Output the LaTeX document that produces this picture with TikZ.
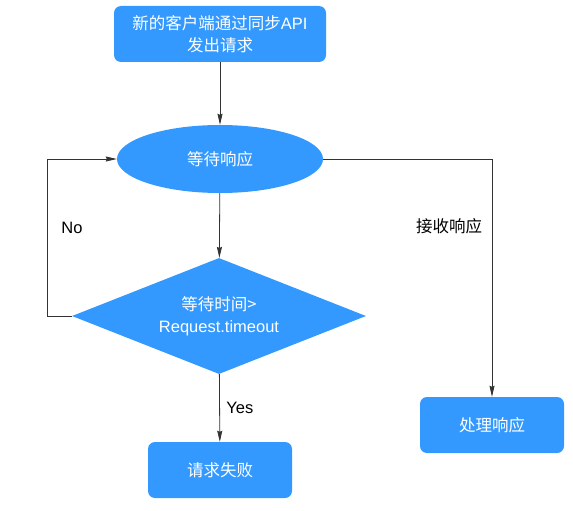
\documentclass[tikz,border=0pt]{standalone}
\usepackage{fontspec}
\setmainfont{Liberation Sans}
\newfontfamily\cjk{Noto Sans CJK SC}
\usetikzlibrary{shapes.geometric,arrows.meta}
\definecolor{fblue}{HTML}{3399FF}
\definecolor{lgray}{HTML}{333333}
\tikzset{
  box/.style={draw=none,fill=fblue,rounded corners=7pt,text=white,align=center,font=\fontsize{16.5}{22}\selectfont\cjk,inner sep=0pt},
  oval/.style={ellipse,draw=none,fill=fblue,text=white,font=\fontsize{16.5}{22}\selectfont\cjk,inner sep=0pt},
  dia/.style={diamond,draw=none,fill=fblue,text=white,align=center,font=\fontsize{16.5}{22}\selectfont,inner sep=0pt,aspect=2.53},
  conn/.style={draw=lgray,line width=0.8pt,-{Stealth[length=11pt,width=5pt,inset=1pt]}},
  lab/.style={font=\fontsize{16.5}{20}\selectfont,text=black}
}
\begin{document}
\begin{tikzpicture}[x=1pt,y=-1pt]
\useasboundingbox (0,0) rectangle (573,511);
\node[box,minimum width=212pt,minimum height=56pt] (start) at (220,34) {新的客户端通过同步\textrm{API}\\发出请求};
\node[oval,minimum width=206pt,minimum height=68pt] (wait) at (220,159) {等待响应};
\node[dia,minimum width=294pt,minimum height=116pt] (check) at (219,316) {{\cjk 等待时间>}\\Request.timeout};
\node[box,minimum width=144pt,minimum height=56pt] (fail) at (220,470) {请求失败};
\node[box,minimum width=144pt,minimum height=56pt] (ok) at (492,425) {处理响应};
\coordinate (nl) at (47,316);
\coordinate (nt) at (47,159);
\coordinate (rc) at (492,159);
\draw[conn] (start) -- (wait);
\draw[conn] (wait) -- (check);
\draw[conn] (check) -- node[lab,right,pos=0.5,xshift=3pt]{Yes} (fail);
\draw[conn] (check.west) -- (nl) -- (nt) -- (wait.west);
\draw[conn] (wait.east) -- (rc) -- (ok.north);
\node[lab] (no) at (72,228) {No};
\node[lab,font=\fontsize{16.5}{20}\selectfont\cjk] (recv) at (449,226) {接收响应};
\end{tikzpicture}
\end{document}
